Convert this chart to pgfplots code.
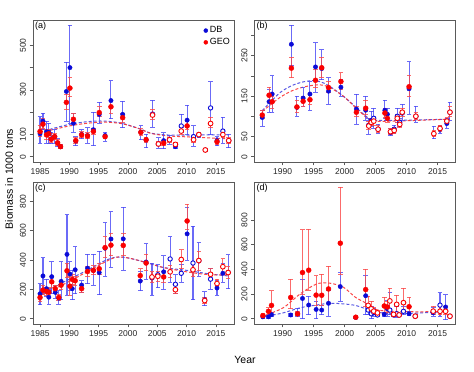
\documentclass[border=0pt]{standalone}
\usepackage{fontspec}
\setmainfont{Liberation Sans}
\usepackage{pgfplots}
\usepackage{pgfplotstable}
\pgfplotsset{compat=1.18}

\definecolor{dbblue}{RGB}{10,10,215}
\definecolor{geored}{RGB}{250,0,0}
\definecolor{barblue}{RGB}{70,70,245}
\definecolor{barred}{RGB}{250,70,70}
\definecolor{boxgray}{RGB}{90,90,90}

% x y lo hi o   (o=1: open symbol)
\pgfplotstableread{
x y lo hi o
1985.0 103 60 180 0
1985.5 160 120 195 0
1986.1 112 60 160 0
1986.5 110 60 150 0
1986.9 80 60 110 0
1987.5 90 60 120 0
1988.0 62 45 80 0
1988.5 45 35 55 0
1989.5 293 160 425 0
1990.1 400 150 590 0
1990.7 150 110 195 0
1991.1 70 50 90 0
1992.1 100 80 120 0
1993.1 95 60 130 0
1994.1 121 50 200 0
1995.1 190 150 245 0
1996.1 95 70 110 0
1997.1 252 170 340 0
1999.1 190 130 250 0
2002.2 110 76 138 0
2003.1 75 40 100 0
2004.2 191 133 253 1
2005.2 57 38 84 1
2006.1 72 35 107 0
2007.1 76 55 95 1
2008.1 45 35 55 0
2009.1 138 107 191 1
2010.1 164 99 230 0
2011.2 90 46 138 1
2012.1 99 85 108 1
2013.2 30 25 35 0
2014.1 219 99 337 1
2015.2 72 50 90 0
2016.2 115 61 176 1
2017.2 72 40 100 1
}\aDB
\pgfplotstableread{
x y lo hi o
1985.0 113 90 140 0
1985.5 146 125 170 0
1986.1 98 75 120 0
1986.5 103 85 120 0
1986.9 78 65 95 0
1987.5 90 75 105 0
1988.0 62 50 75 0
1988.5 45 38 55 0
1989.5 244 210 280 0
1990.1 308 270 355 0
1990.7 168 150 195 0
1991.1 72 60 85 0
1992.1 98 85 112 0
1993.1 93 80 108 0
1994.1 113 100 128 0
1995.1 198 180 225 0
1996.1 90 80 100 0
1997.1 224 195 250 0
1999.1 175 155 195 0
2002.2 109 95 125 0
2003.1 76 65 88 0
2004.2 187 168 214 1
2005.2 57 48 68 1
2006.1 61 50 72 0
2007.1 76 65 88 1
2008.1 55 48 63 1
2009.1 115 100 130 1
2010.1 138 120 160 0
2011.2 76 65 88 1
2012.1 99 90 110 1
2013.2 30 25 35 1
2014.1 149 130 176 1
2015.2 67 55 80 0
2016.2 99 85 110 1
2017.2 72 60 85 1
}\aGEO
\pgfplotstableread{
x y lo hi o
1986.7 97 75 115 0
1987.8 136 110 165 0
1988.3 155 110 200 0
1991.4 278 225 325 0
1992.3 122 100 150 0
1993.3 145 125 170 0
1994.4 155 115 185 0
1995.3 222 160 282 0
1996.3 218 190 265 0
1997.4 162 130 195 0
1999.4 172 150 190 0
2001.9 118 80 155 0
2003.4 115 90 150 0
2003.9 78 55 95 1
2004.3 90 75 112 0
2004.7 95 70 120 1
2005.4 68 58 80 1
2006.5 115 95 140 0
2006.9 105 90 120 0
2007.4 60 52 70 0
2008.0 68 58 78 1
2008.5 100 85 120 1
2008.9 85 75 95 1
2009.3 108 90 130 1
2010.4 168 105 235 0
2011.5 100 85 125 1
2014.4 57 45 75 0
2015.4 68 58 78 0
2016.5 82 70 95 0
2017.0 110 90 135 1
}\bDB
\pgfplotstableread{
x y lo hi o
1986.7 103 95 115 0
1987.8 152 135 172 0
1988.3 136 120 150 0
1991.4 219 195 245 0
1992.3 123 110 140 0
1993.3 137 125 150 0
1994.4 141 128 155 0
1995.3 189 170 215 0
1996.3 220 195 245 0
1997.4 171 158 185 0
1999.4 186 165 208 0
2001.9 110 100 125 0
2003.4 120 105 140 0
2003.9 76 68 88 1
2004.3 85 76 95 1
2004.7 88 78 98 1
2005.4 68 60 76 1
2006.5 108 96 120 0
2006.9 95 85 105 0
2007.4 62 55 70 1
2008.0 65 58 72 1
2008.5 95 85 105 1
2008.9 80 72 88 1
2009.3 110 100 120 1
2010.4 173 150 200 0
2011.5 100 92 110 1
2014.4 57 50 65 1
2015.4 70 63 78 1
2016.5 88 80 96 1
2017.0 110 100 125 1
}\bGEO
\pgfplotstableread{
x y lo hi o
1985.0 170 95 240 0
1985.5 292 170 415 0
1986.1 205 150 270 0
1986.5 147 100 200 0
1987.0 287 170 390 0
1987.6 180 140 230 0
1988.2 140 100 190 0
1988.6 255 130 390 0
1989.6 439 160 710 0
1990.1 305 190 390 0
1990.5 205 130 330 0
1991.0 334 170 490 0
1992.1 230 180 260 0
1993.1 345 240 440 0
1994.1 330 230 440 0
1995.1 315 165 460 0
1996.1 481 290 655 0
1997.1 544 350 730 0
1999.2 545 330 760 0
2002.1 257 190 320 0
2003.1 387 270 510 0
2004.1 280 160 380 1
2005.1 300 210 370 1
2006.1 320 200 430 0
2007.2 408 250 560 1
2008.1 235 170 300 1
2009.1 310 250 370 1
2010.1 579 400 760 0
2011.1 380 130 630 1
2012.1 395 290 520 1
2013.1 130 90 185 0
2014.1 270 200 340 1
2015.2 210 160 260 0
2016.2 310 250 380 0
2017.1 315 205 435 1
}\cDB
\pgfplotstableread{
x y lo hi o
1985.0 145 120 175 0
1985.5 195 165 225 0
1986.1 187 160 215 0
1986.5 180 155 205 0
1987.0 252 210 290 0
1987.6 205 180 230 0
1988.2 145 125 165 0
1988.6 229 200 260 0
1989.6 327 280 375 0
1990.1 222 160 290 0
1990.5 268 235 300 0
1991.0 259 230 290 0
1992.1 205 180 230 0
1993.1 322 290 355 0
1994.1 330 300 360 0
1995.1 341 300 380 0
1996.1 485 420 560 0
1997.1 502 430 580 0
1999.2 500 430 580 0
2002.1 294 260 340 0
2003.1 380 330 440 0
2004.1 285 250 320 1
2005.1 290 255 325 1
2006.1 285 250 320 0
2007.2 320 280 360 1
2008.1 198 170 230 1
2009.1 404 340 470 1
2010.1 667 610 780 0
2011.1 334 290 380 1
2012.1 397 330 460 1
2013.1 124 105 145 1
2014.1 303 265 340 1
2015.2 240 210 270 1
2016.2 355 310 410 1
2017.1 315 275 355 1
}\cGEO
\pgfplotstableread{
x y lo hi o
1986.8 15 5 25 0
1987.7 15 5 25 0
1988.2 33 15 50 0
1991.3 30 20 40 0
1992.4 40 20 80 0
1993.2 164 0 320 0
1994.2 111 30 180 0
1995.4 75 0 140 0
1996.3 70 30 110 0
1997.4 125 20 230 0
1999.3 260 140 375 0
2001.8 10 5 15 0
2003.4 186 30 350 0
2003.8 70 30 120 1
2004.3 40 0 100 1
2004.7 50 20 80 1
2005.3 30 15 45 1
2006.4 35 20 50 0
2006.9 80 20 150 0
2007.3 70 30 210 1
2007.9 30 15 45 1
2008.4 40 10 100 1
2008.8 30 15 45 1
2009.5 60 30 100 1
2010.4 40 25 55 0
2011.4 20 10 30 1
2014.3 50 20 90 1
2015.4 110 20 210 1
2016.3 95 -10 195 0
2017.0 20 10 30 1
}\dDB
\pgfplotstableread{
x y lo hi o
1986.8 25 10 40 0
1987.7 60 30 90 0
1988.2 108 50 225 0
1991.3 172 80 320 0
1992.4 39 25 55 0
1993.2 374 200 720 0
1994.2 393 230 725 0
1995.4 191 110 350 0
1996.3 190 110 360 0
1997.4 241 120 425 0
1999.3 612 360 1065 0
2001.8 12 5 20 0
2003.4 236 100 400 0
2003.8 108 60 180 1
2004.3 80 45 140 1
2004.7 61 35 90 1
2005.3 47 30 65 1
2006.4 103 40 175 0
2006.9 95 50 140 0
2007.3 144 70 245 1
2007.9 35 20 50 1
2008.4 116 50 190 1
2008.8 30 15 45 1
2009.5 130 60 245 1
2010.4 97 40 175 0
2011.4 20 10 30 1
2014.3 61 30 100 1
2015.4 60 30 95 1
2016.3 60 30 95 1
2017.0 20 10 30 1
}\dGEO

\pgfkeys{/pgfplots/table/tabopts/.style={x=x, y=y, meta=o,
  y error plus expr=\thisrow{hi}-\thisrow{y},
  y error minus expr=\thisrow{y}-\thisrow{lo}}}
\tikzset{plabel/.style={anchor=north west, font=\fontsize{9}{10}\selectfont, inner sep=2pt}}

\pgfplotsset{
  panel/.style={
    scale only axis, width=201pt, height=142pt,
    axis line style={boxgray, line width=0.7pt},
    tick align=outside, tick pos=left,
    major tick length=3.5pt,
    every tick/.style={boxgray, line width=0.6pt},
    tick label style={font=\fontsize{8.5}{9}\selectfont, text=black!85},
    /pgf/number format/assume math mode=true,
    /pgf/number format/1000 sep={},
    yticklabel style={rotate=90, anchor=south},
    clip=false,
  },
  dbpts/.style={
    scatter, only marks, scatter src=explicit symbolic,
    scatter/classes={
      0={mark=*, mark size=2.2pt, draw=dbblue, fill=dbblue},
      1={mark=*, mark size=2.2pt, draw=dbblue, fill=white, line width=0.9pt}},
    error bars/y dir=both, error bars/y explicit,
    error bars/error bar style={barblue, line width=1.1pt, opacity=0.8},
    error bars/error mark options={rotate=90, barblue, mark size=2.3pt, line width=1pt, opacity=0.8},
  },
  geopts/.style={
    scatter, only marks, scatter src=explicit symbolic,
    scatter/classes={
      0={mark=*, mark size=2.5pt, draw=geored, fill=geored},
      1={mark=*, mark size=2.4pt, draw=geored, fill=white, line width=0.9pt}},
    error bars/y dir=both, error bars/y explicit,
    error bars/error bar style={barred, line width=1.1pt, opacity=0.8},
    error bars/error mark options={rotate=90, barred, mark size=2.3pt, line width=1pt, opacity=0.8},
  },
  dbline/.style={dbblue!80, line width=1pt, dash pattern=on 3pt off 2pt, smooth, no marks, opacity=0.85},
  geoline/.style={geored!85, line width=1pt, dash pattern=on 3pt off 2pt, smooth, no marks, opacity=0.85},
}

\begin{document}
\begin{tikzpicture}[x=1pt,y=1pt]
\useasboundingbox (0,0) rectangle (474,372);

% ---------------- (a)
\begin{axis}[panel, at={(33pt,210pt)}, anchor=south west,
  xmin=1983.8, xmax=2018.1, ymin=-24, ymax=614,
  xtick={1985,1990,...,2015},
  ytick={0,100,200,300,400,500}, yticklabels={0,100,,300,,500},
  legend style={draw=none, fill=none, at={(0.995,0.975)}, anchor=north east,
    font=\fontsize{9}{10}\selectfont, row sep=0pt, inner sep=1pt},
  legend cell align=left]
\addlegendimage{only marks, mark=*, mark size=2pt, dbblue}
\addlegendentry{DB}
\addlegendimage{only marks, mark=*, mark size=2pt, geored}
\addlegendentry{GEO}
\addplot[forget plot, dbline] coordinates {(1985,108) (1987,125) (1990,145) (1993,157) (1996,160) (1999,150) (2002,125) (2004,105) (2007,97) (2010,97) (2014,98) (2017.2,98)};
\addplot[forget plot, geoline] coordinates {(1985,110) (1987,120) (1990,138) (1993,150) (1996,155) (1999,148) (2002,125) (2004,104) (2007,93) (2010,89) (2014,84) (2017.2,80)};
\addplot[forget plot, dbpts] table[tabopts] {\aDB};
\addplot[forget plot, geopts] table[tabopts] {\aGEO};
\node[plabel] at (rel axis cs:0,1) {(a)};
\end{axis}

% ---------------- (b)
\begin{axis}[panel, at={(254.5pt,210pt)}, anchor=south west,
  xmin=1985.45, xmax=2017.9, ymin=-13, ymax=338,
  xtick={1990,1995,...,2015},
  ytick={0,50,100,150,200,250,300}, yticklabels={0,50,,150,,250,}]
\addplot[dbline] coordinates {(1986.7,114) (1988,135) (1989.7,160) (1991.5,176) (1993.3,185) (1995.1,188) (1996.5,183) (1998,170) (2000,147) (2002,120) (2003.7,97) (2005,90) (2008,90) (2012,91) (2017,93)};
\addplot[geoline] coordinates {(1986.7,112) (1988,128) (1989.7,148) (1991.5,163) (1993.3,172) (1995.1,177) (1996.5,177) (1998,168) (2000,147) (2002,118) (2003.7,95) (2005,88) (2008,88) (2012,90) (2017,93)};
\addplot[dbpts] table[tabopts] {\bDB};
\addplot[geopts] table[tabopts] {\bGEO};
\node[plabel] at (rel axis cs:0,1) {(b)};
\end{axis}

% ---------------- (c)
\begin{axis}[panel, at={(33pt,48pt)}, anchor=south west,
  xmin=1983.8, xmax=2018.1, ymin=-36, ymax=933,
  xtick={1985,1990,...,2015},
  ytick={0,200,400,600,800}]
\addplot[dbline] coordinates {(1985,172) (1987,210) (1990,270) (1993,330) (1996,395) (1998,420) (2000,415) (2003,385) (2006,350) (2010,330) (2014,305) (2017.1,292)};
\addplot[geoline] coordinates {(1985,160) (1987,195) (1990,255) (1993,320) (1996,385) (1998,420) (2000,415) (2003,385) (2006,350) (2010,320) (2014,300) (2017.1,300)};
\addplot[dbpts] table[tabopts] {\cDB};
\addplot[geopts] table[tabopts] {\cGEO};
\node[plabel] at (rel axis cs:0,1) {(c)};
\end{axis}

% ---------------- (d)
\begin{axis}[panel, at={(254.5pt,48pt)}, anchor=south west,
  xmin=1985.45, xmax=2017.9, ymin=-43, ymax=1108,
  xtick={1990,1995,...,2015},
  ytick={0,200,400,600,800}]
\addplot[dbline] coordinates {(1986.8,15) (1990,46) (1992.8,88) (1995.5,111) (1997.6,125) (1999.8,120) (2001.7,108) (2003.3,83) (2004.9,61) (2007,41) (2012.4,47) (2017,61)};
\addplot[geoline] coordinates {(1986.8,20) (1990.1,89) (1992.8,200) (1995.5,282) (1997.6,288) (1999.8,255) (2001.7,175) (2003.3,130) (2004.9,78) (2007,61) (2012.4,56) (2017,61)};
\addplot[dbpts] table[tabopts] {\dDB};
\addplot[geopts] table[tabopts] {\dGEO};
\node[plabel] at (rel axis cs:0,1) {(d)};
\end{axis}

\node[rotate=90, font=\fontsize{10.5}{12}\selectfont] at (9,193) {Biomass in 1000 tons};
\node[font=\fontsize{10.5}{12}\selectfont] at (245,12) {Year};
\end{tikzpicture}
\end{document}
